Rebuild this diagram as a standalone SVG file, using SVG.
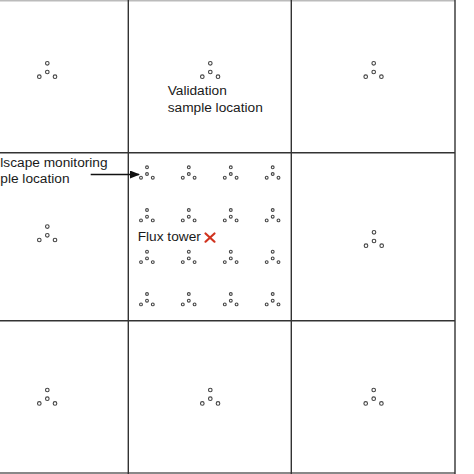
<svg xmlns="http://www.w3.org/2000/svg" width="474" height="474" viewBox="0 0 474 474">
<style>
.grid{stroke:#333;stroke-width:1.4;fill:none}
.lbl{font-family:"Liberation Sans",Arial,sans-serif;font-size:13.7px;fill:#1a1a1a}
.dot{fill:#fff;stroke:#444;stroke-width:1.1}
</style>
<defs>
<g id="big">
<circle class="dot" cx="0" cy="-8.7" r="1.8"/>
<circle class="dot" cx="0" cy="0" r="1.8"/>
<circle class="dot" cx="-8" cy="4.7" r="1.8"/>
<circle class="dot" cx="7.7" cy="4.7" r="1.8"/>
</g>
<g id="small">
<circle class="dot" cx="0" cy="-6.7" r="1.4"/>
<circle class="dot" cx="0" cy="0" r="1.4"/>
<circle class="dot" cx="-6" cy="3.7" r="1.4"/>
<circle class="dot" cx="5.8" cy="3.7" r="1.4"/>
</g>
<marker id="arr" markerWidth="10" markerHeight="8" refX="9" refY="4" orient="auto" markerUnits="userSpaceOnUse">
<path d="M0,0 L10,4 L0,8 Z" fill="#111"/>
</marker>
</defs>
<rect width="474" height="474" fill="#fff"/>
<g id="grid">
<line x1="0" y1="0.8" x2="455" y2="0.8" stroke="#bbb" stroke-width="1.6"/>
<line x1="0" y1="473" x2="455" y2="473" stroke="#888" stroke-width="2"/>
<line class="grid" x1="0" y1="152.7" x2="455" y2="152.7"/>
<line class="grid" x1="0" y1="320.8" x2="455" y2="320.8"/>
<line class="grid" x1="128.3" y1="0" x2="128.3" y2="474"/>
<line class="grid" x1="291.3" y1="0" x2="291.3" y2="474"/>
<line class="grid" x1="455" y1="0" x2="455" y2="474"/>
</g>
<g id="validation-sites">
<use href="#big" x="47.3" y="72"/>
<use href="#big" x="210.3" y="72"/>
<use href="#big" x="373.7" y="72"/>
<use href="#big" x="47.3" y="235.3"/>
<use href="#big" x="374" y="241"/>
<use href="#big" x="47.3" y="398.7"/>
<use href="#big" x="210.3" y="398.7"/>
<use href="#big" x="373.7" y="398.7"/>
</g>
<g id="monitoring-sites">
<use href="#small" x="147" y="174"/><use href="#small" x="188.8" y="174"/><use href="#small" x="230.8" y="174"/><use href="#small" x="272.7" y="174"/>
<use href="#small" x="147" y="216.7"/><use href="#small" x="188.8" y="216.7"/><use href="#small" x="230.8" y="216.7"/><use href="#small" x="272.7" y="216.7"/>
<use href="#small" x="147" y="258.4"/><use href="#small" x="188.8" y="258.4"/><use href="#small" x="230.8" y="258.4"/><use href="#small" x="272.7" y="258.4"/>
<use href="#small" x="147" y="300.7"/><use href="#small" x="188.8" y="300.7"/><use href="#small" x="230.8" y="300.7"/><use href="#small" x="272.7" y="300.7"/>
</g>
<g id="validation-label">
<text class="lbl" x="167.7" y="95">Validation</text>
<text class="lbl" x="167.7" y="111.7">sample location</text>
</g>
<g id="monitoring-label">
<text class="lbl" x="0.3" y="167.3">lscape monitoring</text>
<text class="lbl" x="0.3" y="183.3">ple location</text>
</g>
<g id="flux-tower">
<text class="lbl" x="137.7" y="240.7">Flux tower</text>
<path d="M205.5,233.5 L214.5,241.7 M214.5,233.5 L205.5,241.7" stroke="#d0331f" stroke-width="2.2" stroke-linecap="round"/>
</g>
<g id="connectors">
<line x1="90.7" y1="174.5" x2="139" y2="174.5" stroke="#111" stroke-width="1.6" marker-end="url(#arr)"/>
</g>
</svg>
